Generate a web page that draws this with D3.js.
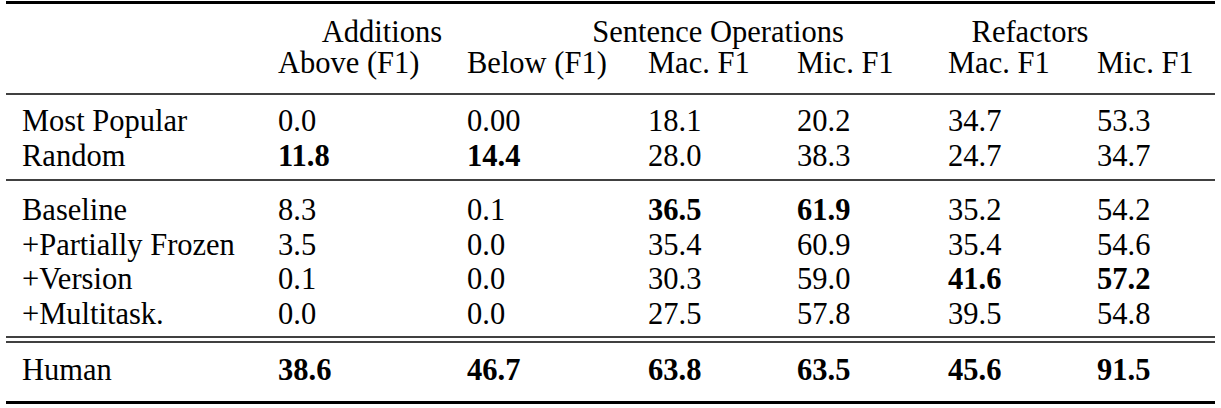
<!DOCTYPE html>
<html>
<head>
<meta charset="utf-8">
<script src="https://cdn.jsdelivr.net/npm/d3@7"></script>
<style>
body { margin: 0; background: #fff; }
text { font-family: "Liberation Serif", "DejaVu Serif", serif; font-size: 30.5px; fill: #000; }
</style>
</head>
<body>
<svg id="tbl" width="1221" height="408"></svg>
<script>
// table content
var groups = ["Additions", "Sentence Operations", "Refactors"];
var subHeaders = ["Above (F1)", "Below (F1)", "Mac. F1", "Mic. F1", "Mac. F1", "Mic. F1"];
var rowLabels = ["Most Popular", "Random", "Baseline", "+Partially Frozen", "+Version", "+Multitask.", "Human"];
var values = [
    ["0.0", "0.00", "18.1", "20.2", "34.7", "53.3"],
    ["11.8", "14.4", "28.0", "38.3", "24.7", "34.7"],
    ["8.3", "0.1", "36.5", "61.9", "35.2", "54.2"],
    ["3.5", "0.0", "35.4", "60.9", "35.4", "54.6"],
    ["0.1", "0.0", "30.3", "59.0", "41.6", "57.2"],
    ["0.0", "0.0", "27.5", "57.8", "39.5", "54.8"],
    ["38.6", "46.7", "63.8", "63.5", "45.6", "91.5"]
];
// which cells are bold [row, col]
var bold = [[1,0],[1,1],[2,2],[2,3],[4,4],[4,5],[6,0],[6,1],[6,2],[6,3],[6,4],[6,5]];

var svg = d3.select("#tbl");

var colX = d3.scaleOrdinal().domain(d3.range(6)).range([278, 467, 648, 797, 948, 1097]);
var groupX = d3.scaleOrdinal().domain(d3.range(3)).range([382, 718, 1030]);
var rowY = d3.scaleOrdinal().domain(d3.range(7)).range([131, 166, 220, 255, 289, 324, 380]);

var isBold = function (r, c) {
    return bold.some(function (b) { return b[0] === r && b[1] === c; });
};

svg.selectAll("text.grp").data(groups).enter().append("text")
    .attr("class", "grp")
    .attr("x", function (d, i) { return groupX(i); })
    .attr("y", 42)
    .attr("text-anchor", "middle")
    .text(function (d) { return d; });

svg.selectAll("text.sub").data(subHeaders).enter().append("text")
    .attr("class", "sub")
    .attr("x", function (d, i) { return colX(i); })
    .attr("y", 73)
    .text(function (d) { return d; });

svg.selectAll("text.lbl").data(rowLabels).enter().append("text")
    .attr("class", "lbl")
    .attr("x", 22)
    .attr("y", function (d, i) { return rowY(i); })
    .text(function (d) { return d; });

values.forEach(function (row, r) {
    svg.selectAll("text.r" + r).data(row).enter().append("text")
        .attr("class", "r" + r)
        .attr("x", function (d, c) { return colX(c); })
        .attr("y", rowY(r))
        .style("font-weight", function (d, c) { return isBold(r, c) ? "bold" : "normal"; })
        .text(function (d) { return d; });
});

// rules
var rules = [[2.5, 3], [94, 1.5], [180, 1.5], [337, 1.3], [342, 1.3], [402.5, 3]];
svg.selectAll("line.rule").data(rules).enter().append("line")
    .attr("x1", 6).attr("x2", 1215)
    .attr("y1", function (d) { return d[0]; })
    .attr("y2", function (d) { return d[0]; })
    .attr("stroke", "#000")
    .attr("stroke-width", function (d) { return d[1]; });
</script>
</body>
</html>
